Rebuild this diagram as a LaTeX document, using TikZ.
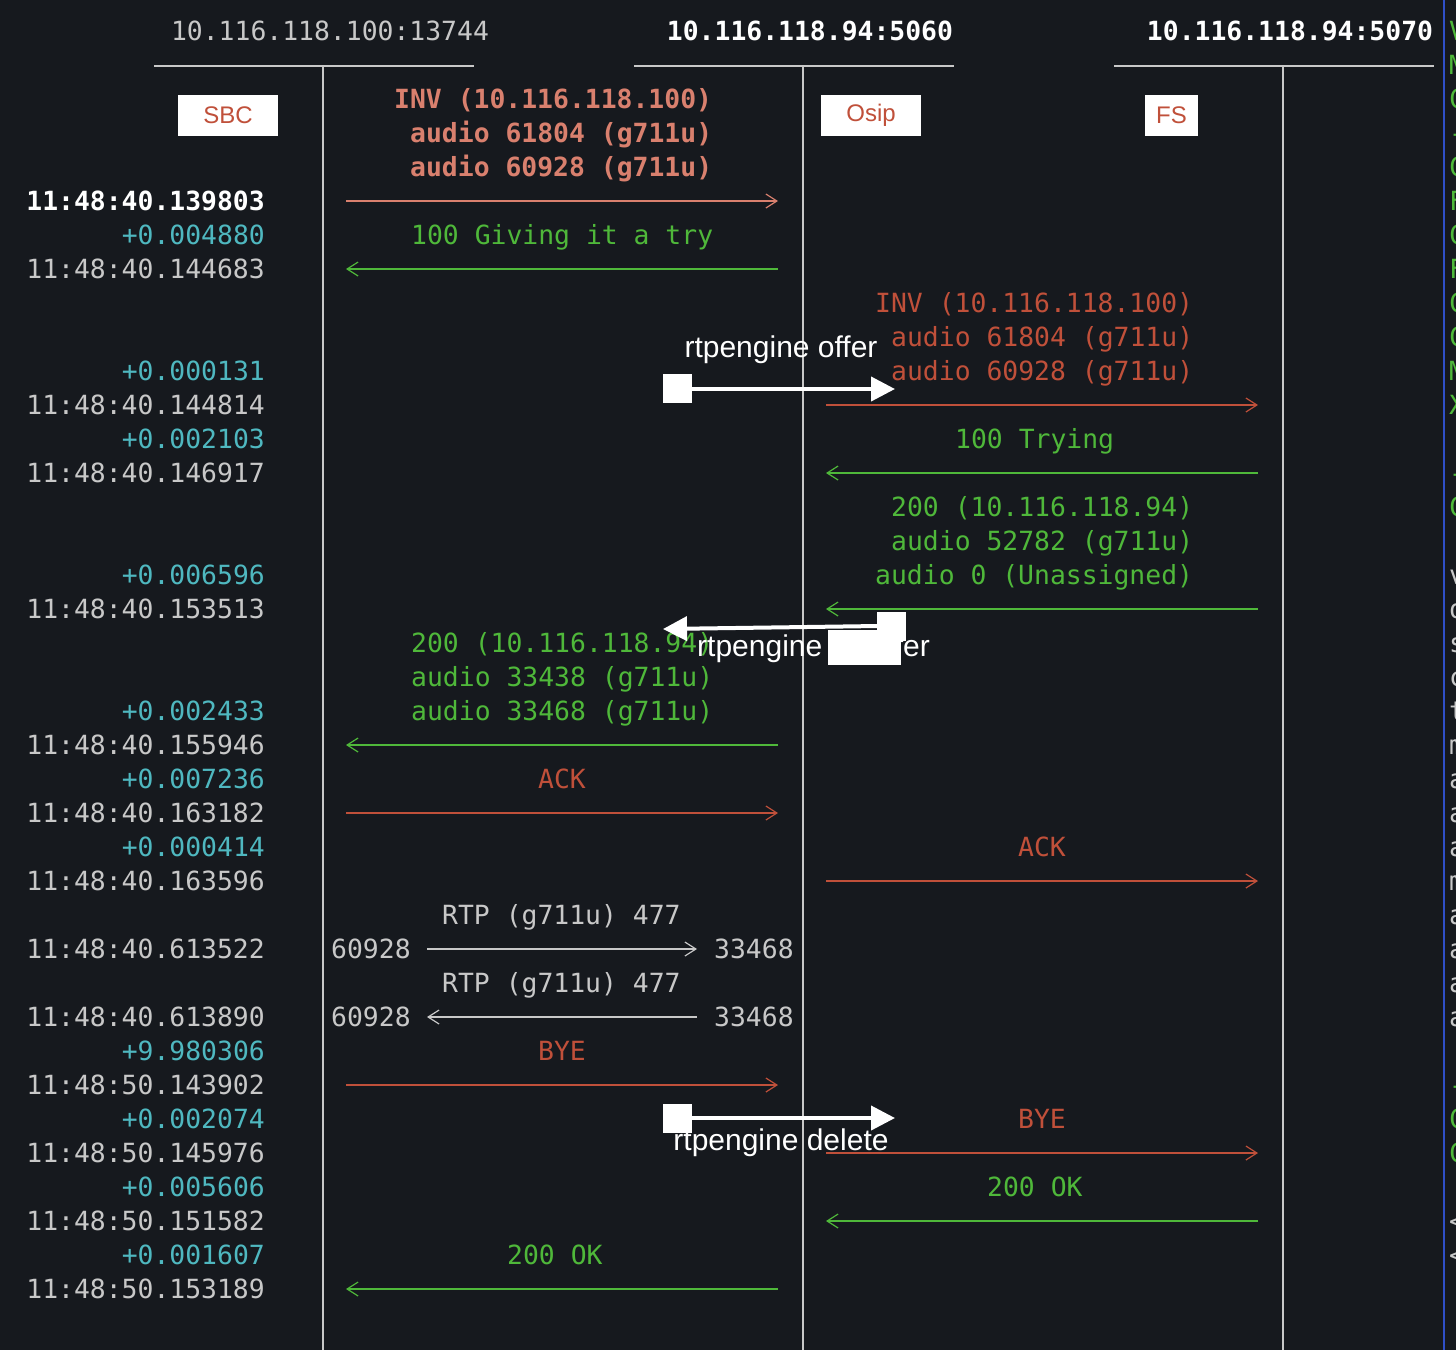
\documentclass[tikz,border=0pt]{standalone}
\usepackage{fontspec}
\usetikzlibrary{arrows.meta}
\newfontfamily\mono{DejaVu Sans Mono}
\newfontfamily\sansf{Liberation Sans}
\definecolor{bg}{HTML}{16191E}
\definecolor{gr}{HTML}{C8C8C8}
\definecolor{cy}{HTML}{4FB8C0}
\definecolor{gn}{HTML}{4FB83A}
\definecolor{rl}{HTML}{D9806E}
\definecolor{rd}{HTML}{C0503A}
\definecolor{bl}{HTML}{3050C8}
\tikzset{
 t/.style={inner sep=0pt,font=\mono\fontsize{26.4}{30}\selectfont,anchor=base west},
 te/.style={t,anchor=base east},
 tb/.style={t,font=\mono\bfseries\fontsize{26.4}{30}\selectfont},
 life/.style={draw=gr,line width=1.2pt},
 msg/.style={line width=1.3pt,-{Straight Barb[length=11pt,width=14pt,line width=1.2pt]}},
 box/.style={fill=white,inner sep=0pt,text=rd,font=\sansf\fontsize{24}{26}\selectfont},
 ann/.style={text=white,inner sep=0pt,font=\sansf\fontsize{30}{32}\selectfont},
 wa/.style={white,line width=4pt,-{Triangle[length=24pt,width=24pt]}},
}
\begin{document}
\begin{tikzpicture}[x=1pt,y=-1pt]
\fill[bg] (0,0) rectangle (1456,1350);
\useasboundingbox (0,0) rectangle (1456,1350);
% headers
\node[t,text=gr,anchor=base] (h1) at (330,40) {10.116.118.100:13744};
\node[tb,text=white,anchor=base] (h2) at (810,40) {10.116.118.94:5060};
\node[tb,text=white,anchor=base] (h3) at (1290,40) {10.116.118.94:5070};
\foreach \a/\b in {154/474,634/954,1114/1434} \draw[gr,line width=1.2pt] (\a,66) -- (\b,66);
\draw[life] (323,66) -- (323,1350);
\draw[life] (803,66) -- (803,1350);
\draw[life] (1283,66) -- (1283,1350);
\node[box,minimum width=100pt,minimum height=41pt] (sbc) at (228,115.5) {SBC};
\node[box,minimum width=100pt,minimum height=41pt] (osip) at (871,115.5) {Osip};
\node[box,minimum width=53pt,minimum height=41pt] (fs) at (1171.5,115.5) {FS};
% timestamps
\node[te,text=white,font=\mono\bfseries\fontsize{26.4}{30}\selectfont] at (265,210) {11:48:40.139803};
\foreach \y/\s/\c in {235/+0.004880/cy,269/11:48:40.144683/gr,371/+0.000131/cy,405/11:48:40.144814/gr,439/+0.002103/cy,473/11:48:40.146917/gr,575/+0.006596/cy,609/11:48:40.153513/gr,711/+0.002433/cy,745/11:48:40.155946/gr,779/+0.007236/cy,813/11:48:40.163182/gr,847/+0.000414/cy,881/11:48:40.163596/gr,949/11:48:40.613522/gr,1017/11:48:40.613890/gr,1051/+9.980306/cy,1085/11:48:50.143902/gr,1119/+0.002074/cy,1153/11:48:50.145976/gr,1187/+0.005606/cy,1221/11:48:50.151582/gr,1255/+0.001607/cy,1289/11:48:50.153189/gr}
  \node[te,text=\c] at (265,\y+9) {\s};
% labels left column
\node[tb,text=rl] at (394,108) {INV (10.116.118.100)};
\node[tb,text=rl] at (410,142) {audio 61804 (g711u)};
\node[tb,text=rl] at (410,176) {audio 60928 (g711u)};
\node[t,text=gn] at (411,244) {100 Giving it a try};
\node[t,text=gn] at (411,652) {200 (10.116.118.94)};
\node[t,text=gn] at (411,686) {audio 33438 (g711u)};
\node[t,text=gn] at (411,720) {audio 33468 (g711u)};
\node[t,text=rd] at (538,788) {ACK};
\node[t,text=gr] at (442,924) {RTP (g711u) 477};
\node[t,text=gr] at (442,992) {RTP (g711u) 477};
\node[t,text=gr] (p1) at (331,958) {60928};
\node[t,text=gr] (p2) at (714,958) {33468};
\node[t,text=gr] (p3) at (331,1026) {60928};
\node[t,text=gr] (p4) at (714,1026) {33468};
\node[t,text=rd] at (538,1060) {BYE};
\node[t,text=gn] at (507,1264) {200 OK};
% labels right column
\node[t,text=rd] at (875,312) {INV (10.116.118.100)};
\node[t,text=rd] at (891,346) {audio 61804 (g711u)};
\node[t,text=rd] at (891,380) {audio 60928 (g711u)};
\node[t,text=gn] at (955,448) {100 Trying};
\node[t,text=gn] at (891,516) {200 (10.116.118.94)};
\node[t,text=gn] at (891,550) {audio 52782 (g711u)};
\node[t,text=gn] at (875,584) {audio 0 (Unassigned)};
\node[t,text=rd] at (1018,856) {ACK};
\node[t,text=rd] at (1018,1128) {BYE};
\node[t,text=gn] at (987,1196) {200 OK};
% arrows
\draw[msg,rl] (346,201) -- (778,201);
\draw[msg,gn] (778,269) -- (346,269);
\draw[msg,rd] (826,405) -- (1258,405);
\draw[msg,gn] (1258,473) -- (826,473);
\draw[msg,gn] (1258,609) -- (826,609);
\draw[msg,gn] (778,745) -- (346,745);
\draw[msg,rd] (346,813) -- (778,813);
\draw[msg,rd] (826,881) -- (1258,881);
\draw[msg,gr] (427,949) -- (697,949);
\draw[msg,gr] (697,1017) -- (427,1017);
\draw[msg,rd] (346,1085) -- (778,1085);
\draw[msg,rd] (826,1153) -- (1258,1153);
\draw[msg,gn] (1258,1221) -- (826,1221);
\draw[msg,gn] (778,1289) -- (346,1289);
% annotations
\node[ann,anchor=base] (a1) at (781,357) {rtpengine offer};
\fill[white] (663,374) rectangle (692,403);
\draw[wa] (692,389) -- (895,389);
\draw[wa] (878,626) -- (663,629);
\fill[white] (877,612) rectangle (906,641);
\node[ann,anchor=base west] (a2) at (697,656) {rtpengine};
\node[ann,anchor=base east] (a2b) at (930,656) {offer};
\fill[white] (828,630) rectangle (901,665);
\fill[white] (663,1104) rectangle (692,1133);
\draw[wa] (692,1118) -- (895,1118);
\node[ann,anchor=base] (a3) at (781,1150) {rtpengine delete};
% right edge
\draw[bl,line width=2.5pt] (1444,0) -- (1444,1350);
\foreach \y/\s/\c in {31/V/gn,65/M/gn,99/C/gn,133/-/gn,167/C/gn,201/F/gn,235/C/gn,269/F/gn,303/C/gn,337/C/gn,371/M/gn,405/X/gn,473/-/gn,507/C/gn,575/v/gr,609/o/gr,643/s/gr,677/c/gr,711/t/gr,745/m/gr,779/a/gr,813/a/gr,847/a/gr,881/m/gr,915/a/gr,949/a/gr,983/a/gr,1017/a/gr,1085/-/gn,1119/C/gn,1153/C/gn,1221/</gr,1255/</gr}
  \node[t,text=\c] at (1449,\y+9) {\s};
\end{tikzpicture}
\end{document}
